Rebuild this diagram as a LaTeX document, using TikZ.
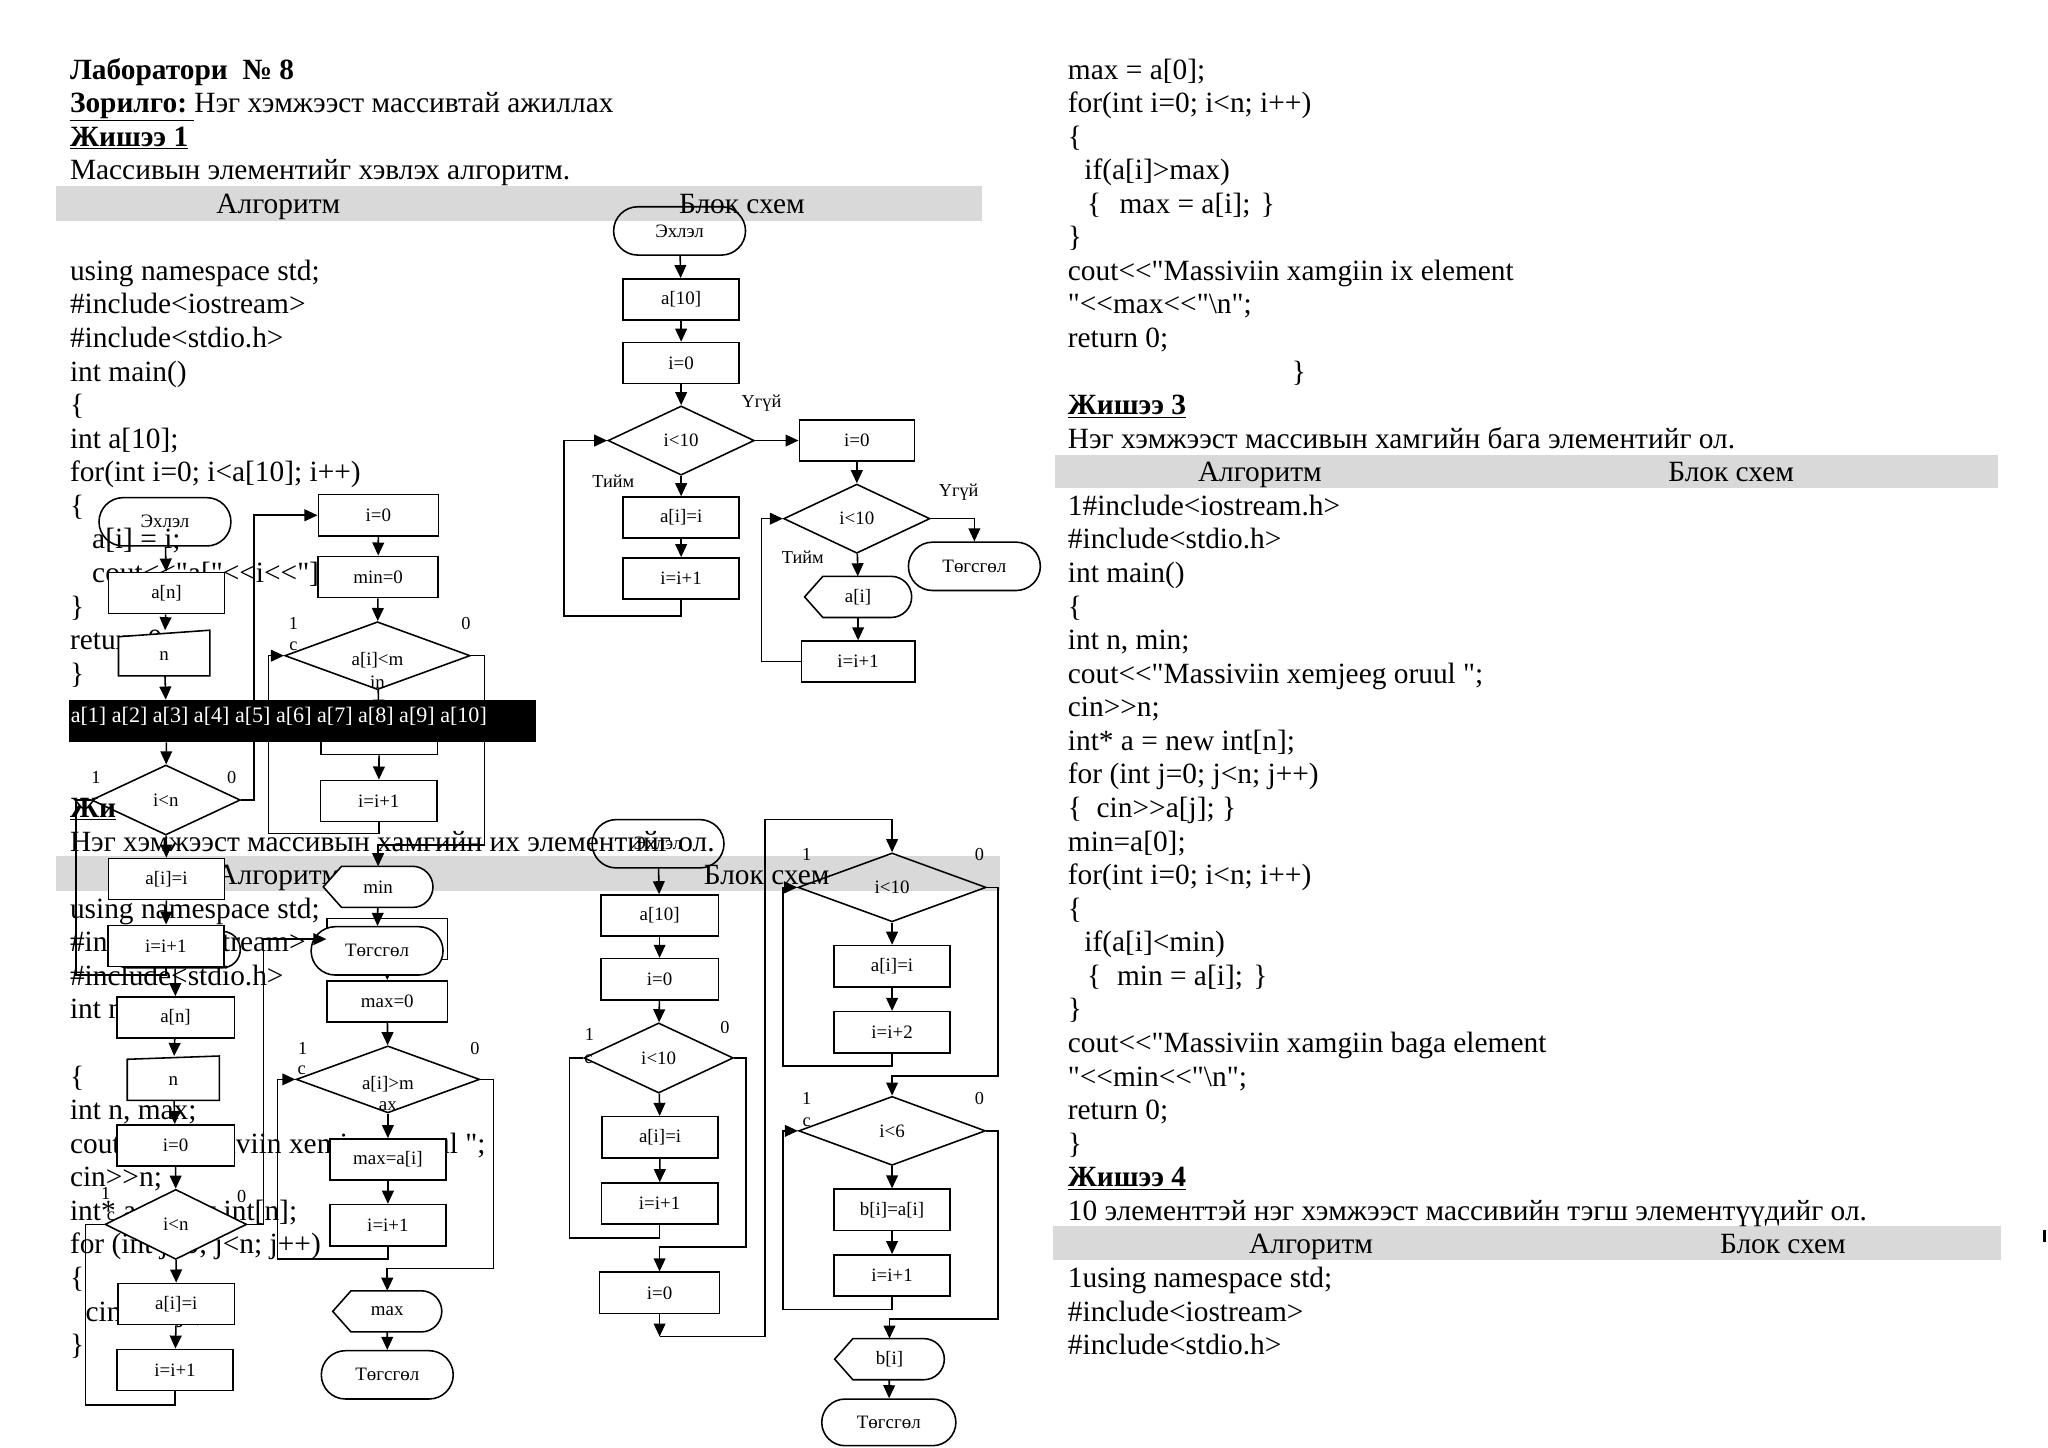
\documentclass[tikz,border=0pt]{standalone}
\usepackage{fontspec}
\setmainfont{Liberation Serif}[Ligatures=TeXOff]
\usetikzlibrary{arrows.meta, positioning, shapes.geometric, shapes.misc}

\begin{document}
\begin{tikzpicture}[x=1pt, y=-1pt, line width=1.2pt,
    codeline/.style={anchor=base west, inner sep=0pt, font=\fontsize{22.5}{25.7}\selectfont},
    bandtitle/.style={codeline, anchor=base},
    fc/.style={inner sep=0pt, font=\fontsize{14.5}{16}\selectfont},
    blk/.style={fc, draw, fill=white, minimum width=89pt, minimum height=31.5pt},
    term/.style={fc, draw, rounded rectangle, minimum width=101pt, minimum height=37pt},
    dec/.style={fc, draw, fill=white, diamond},
    shp/.style={fc, outer sep=0pt, minimum width=84pt, minimum height=31.5pt},
    lbl/.style={inner sep=0pt, font=\fontsize{14}{16}\selectfont},
    arr/.style={-{Triangle[length=10pt, width=9pt]}}
]
\useasboundingbox (0,0) rectangle (1568,1108);
\fill[white] (0,0) rectangle (1568,1108);

%% gray header bands
\fill[black!15] (43.2,142.4) rectangle (752.2,169);
\fill[black!15] (43.2,655.7) rectangle (765.7,682);
\fill[black!15] (807.4,348.4) rectangle (1530,373.9);
\fill[black!15] (806.4,938.7) rectangle (1531.7,964.7);
\node[bandtitle] (h1) at (213.1,163.3) {Алгоритм};
\node[bandtitle] (h2) at (568,163.3) {Блок схем};
\node[bandtitle] (h3) at (213.1,677.3) {Алгоритм};
\node[bandtitle] (h4) at (587,677.3) {Блок схем};
\node[bandtitle] (h5) at (964.6,368.8) {Алгоритм};
\node[bandtitle] (h6) at (1325.4,368.8) {Блок схем};
\node[bandtitle] (h7) at (1003.8,960) {Алгоритм};
\node[bandtitle] (h8) at (1365,960) {Блок схем};

%% page text, one line per row of 25.7pt
\foreach \k/\x/\lbl in {
  0/53/{\textbf{Лаборатори\ \ № 8}},
  1/53/{\underline{\textbf{Зорилго:}\ }Нэг хэмжээст массивтай ажиллах},
  2/53/{\underline{\textbf{Жишээ 1}}},
  3/53/{Массивын элементийг хэвлэх алгоритм.},
  6/53/{using namespace std;},
  7/53/{\#include<iostream>},
  8/53/{\#include<stdio.h>},
  9/53/{int main()},
  10/53/{\{},
  11/53/{int a[10];},
  12/53/{for(int i=0; i<a[10]; i++)},
  13/53/{\{},
  14/70/{a[i] = i;},
  15/70/{cout<<"a["<<i<<"]},
  16/53/{\}},
  17/53/{return 0;},
  18/53/{\}},
  23/53/{Нэг хэмжээст массивын хамгийн их элементийг ол.},
  25/53/{using namespace std;},
  26/53/{\#include<iostream>},
  27/53/{\#include<stdio.h>},
  28/53/{int main()},
  30/53/{\{},
  31/53/{int n, max;},
  32/53/{cout<<"Massiviin xemjeeg oruul ";},
  33/53/{cin>>n;},
  34/53/{int* a = new int[n];},
  35/53/{for (int j=0; j<n; j++)},
  36/53/{\{},
  37/65/{cin>>a[j];},
  38/53/{\}}}{
  \node[codeline] (L\k) at (\x,{60.5+25.7*\k}) {\lbl};
}
\foreach \k/\x/\lbl in {
  0/817/{max = a[0];},
  1/817/{for(int i=0; i<n; i++)},
  2/817/{\{},
  3/829.6/{if(a[i]>max)},
  4/831.8/{\{\hspace{14pt}max = a[i];\hspace{8pt}\}},
  5/817/{\}},
  6/817/{cout<<"Massiviin xamgiin ix element},
  7/817/{"<<max<<"\textbackslash n";},
  8/817/{return 0;},
  9/988.5/{\}},
  10/817/{\underline{\textbf{Жишээ 3}}},
  11/817/{Нэг хэмжээст массивын хамгийн бага элементийг ол.},
  13/817/{1\#include<iostream.h>},
  14/817/{\#include<stdio.h>},
  15/817/{int main()},
  16/817/{\{},
  17/817/{int n, min;},
  18/817/{cout<<"Massiviin xemjeeg oruul ";},
  19/817/{cin>>n;},
  20/817/{int* a = new int[n];},
  21/817/{for (int j=0; j<n; j++)},
  22/817/{\{\ \ cin>>a[j]; \}},
  23/817/{min=a[0];},
  24/817/{for(int i=0; i<n; i++)},
  25/817/{\{},
  26/829.6/{if(a[i]<min)},
  27/831.8/{\{\hspace{12pt}min = a[i];\hspace{8pt}\}},
  28/817/{\}},
  29/817/{cout<<"Massiviin xamgiin baga element},
  30/817/{"<<min<<"\textbackslash n";},
  31/817/{return 0;},
  32/817/{\}},
  33/817/{\underline{\textbf{Жишээ 4}}},
  34/817/{10 элементтэй нэг хэмжээст массивийн тэгш элементүүдийг ол.},
  36/817/{1using namespace std;},
  37/817/{\#include<iostream>},
  38/817/{\#include<stdio.h>}}{
  \node[codeline] (R\k) at (\x,{60.5+25.7*\k}) {\lbl};
}

%% Example 1: print the array
\node[term] (A1) at (520.3,176.8) {Эхлэл};
\node[blk] (A2) at (521.5,229.3) {a[10]};
\node[blk] (A3) at (521.5,278) {i=0};
\node[dec, minimum width=112pt, minimum height=53pt] (A4) at (521.5,337.3) {i<10};
\node[blk, minimum width=88pt] (A5) at (656,337.3) {i=0};
\node[blk] (A6) at (521.5,396.3) {a[i]=i};
\node[blk] (A7) at (521.5,442.9) {i=i+1};
\node[dec, minimum width=112pt, minimum height=53pt] (A8) at (656,397.1) {i<10};
\node[term] (A9) at (746,433.6) {Төгсгөл};
\node[shp, minimum width=82pt] (A10) at (657,457) {};
\node[blk, minimum width=87pt] (A11) at (657,506.6) {i=i+1};
\draw[arr] (A1) -- (A2);
\draw[arr] (A2) -- (A3);
\draw[arr] (A3) -- (A4);
\draw[arr] (A4) -- (A5);
\draw[arr] (A4) -- (A6);
\draw[arr] (A6) -- (A7);
\draw[arr] (A7.south) |- (432,471.7) |- (A4.west);
\draw[arr] (A5) -- (A8);
\draw[arr] (A8.east) -| (A9.north);
\draw[arr] (A8) -- (A10);
\draw[arr] (A10) -- (A11);
\draw[arr] (A11.west) -- ++(-29.8,0) |- (A8.west);
\node[lbl] (yA1) at (583,309) {Үгүй};
\node[lbl] (tA1) at (469.5,368.5) {Тийм};
\node[lbl] (yA2) at (734,376.7) {Үгүй};
\node[lbl] (tA2) at (614.6,427) {Тийм};

%% Example 2: largest element (lies under the min chart)
\node[term, minimum width=100pt, minimum height=28pt] (C1) at (134,727) {Эхлэл};
\node[blk, minimum width=90pt] (C2) at (134.4,779) {a[n]};
\node[shp, minimum width=70.5pt, minimum height=34pt] (C3) at (132.7,825.5) {};
\node[blk, minimum width=90pt] (C4) at (134.4,877) {i=0};
\node[dec, minimum width=108.5pt, minimum height=53.6pt] (C5) at (134.6,937.4) {i<n};
\node[blk] (C6) at (135,998.3) {a[i]=i};
\node[blk] (C7) at (134,1048.9) {i=i+1};
\node[blk, minimum width=92pt] (C8) at (296.5,719) {i=0};
\node[blk, minimum width=92pt] (C9) at (296.5,766.7) {max=0};
\node[dec, minimum width=140.5pt, minimum height=51.3pt] (C10) at (297,826.4) {};
\node[blk] (C11) at (297,887.7) {max=a[i]};
\node[blk] (C12) at (297,938) {i=i+1};
\node[shp, minimum width=83.5pt] (C13) at (296.5,1004) {};
\node[term] (C14) at (296.5,1052.6) {Төгсгөл};
\node[fc] (C10a) at (297,830) {a[i]>m};
\node[fc] (C10b) at (297,847) {ax};
\draw[arr] (C1) -- (C2);
\draw[arr] (C2) -- (C3);
\draw[arr] (C3) -- (C4);
\draw[arr] (C4) -- (C5);
\draw[arr] (C5) -- (C6);
\draw[arr] (C6) -- (C7);
\draw (C7.south) |- (65.6,1075.6) |- (C5.west);
\draw[arr] (C8) -- (C9);
\draw[arr] (C9) -- (C10);
\draw[arr] (C10) -- (C11);
\draw[arr] (C11) -- (C12);
\draw[arr] (C12.south) |- (212.6,964) |- (C10.west);
\draw[arr] (C10.east) -| (377.7,971.3) -| (C13.north);
\draw[arr] (C13) -- (C14);
\node[lbl] (oC5) at (81,914) {1};
\node[lbl] (zC5) at (185,916) {0};
\node[lbl] (cC5) at (85,931) {c};
\node[lbl] (oC10) at (231.7,802.8) {1};
\node[lbl] (zC10) at (363.7,802.8) {0};
\node[lbl] (cC10) at (231,819.8) {c};

%% Example 3: smallest element
\node[term] (B1) at (126.3,399.5) {Эхлэл};
\node[blk] (B2) at (127.5,454) {a[n]};
\node[shp, minimum width=70pt, minimum height=35pt] (B3) at (125.7,500) {};
\node[blk] (B4) at (127.5,552) {i=0};
\node[dec, minimum width=114pt, minimum height=53.6pt] (B5) at (127,612.5) {i<n};
\node[blk] (B6) at (127.5,673) {a[i]=i};
\node[blk] (B7) at (127,724.2) {i=i+1};
\node[blk, minimum width=92pt] (B8) at (289.7,394.5) {i=0};
\node[blk, minimum width=92pt] (B9) at (289.5,441.7) {min=0};
\node[dec, minimum width=142pt, minimum height=52pt] (B10) at (289,502) {};
\node[blk] (B11) at (290.3,562) {min=a[i]};
\node[blk] (B12) at (290,613.2) {i=i+1};
\node[shp] (B13) at (289.5,679) {};
\node[term, fill=white] (B14) at (288.7,728) {Төгсгөл};
\node[fc] (B10a) at (289,505.4) {a[i]<m};
\node[fc] (B10b) at (289,522.7) {in};
\draw[arr] (B1) -- (B2);
\draw[arr] (B2) -- (B3);
\draw[arr] (B3) -- (B4);
\draw[arr] (B4) -- (B5);
\draw[arr] (B5) -- (B6);
\draw[arr] (B6) -- (B7);
\draw (B7.south) |- (58.2,746.6) |- (B5.west);
\draw[arr] (B5.east) -- ++(10,0) |- (B8.west);
\draw[arr] (B8) -- (B9);
\draw[arr] (B9) -- (B10);
\draw[arr] (B10) -- (B11);
\draw[arr] (B11) -- (B12);
\draw[arr] (B12.south) |- (205.5,638) |- (B10.west);
\draw[arr] (B10.east) -| (370.8,647) -| (B13.north);
\draw[arr] (B13) -- (B14);
\node[lbl] (oB5) at (73.5,595) {1};
\node[lbl] (zB5) at (177.4,595) {0};
\node[lbl] (oB10) at (224.6,477.3) {1};
\node[lbl] (zB10) at (356.8,477.3) {0};
\node[lbl] (cB10) at (224.6,495) {c};

% 0-branch of the max chart, drawn over the min end box
\draw[arr] (C5.east) -- ++(12.2,0) |- (C8.west);

%% manual input and output boxes
\foreach \d/\dy in {B3/5, C3/2.5}{
  \draw[fill=white] (\d.south west) -- (\d.south east) -- (\d.north east)
    -- ([yshift=-\dy pt]\d.north west) -- cycle;
  \node[fc] at ([yshift=-2pt]\d.center) {n};
}
\foreach \d/\lbl in {A10/{a[i]}, B13/min, C13/max}{
  \draw[fill=white] (\d.west) -- ([xshift=14pt]\d.north west)
    -- ([xshift=-15.75pt]\d.north east) arc[start angle=90, end angle=-90, radius=15.75pt]
    -- ([xshift=14pt]\d.south west) -- cycle;
  \node[fc] at (\d) {\lbl};
}

%% black strip with the array cells
\fill[black] (52.8,536) rectangle (410.4,568);
\node[anchor=base west, inner sep=0pt, text=white, font=\fontsize{16.9}{18}\selectfont]
  (cells) at (53.6,553.3) {a[1] a[2] a[3] a[4] a[5] a[6] a[7] a[8] a[9] a[10]};
\node[codeline] (L22) at (53,625.9) {\underline{\textbf{Жи}}};

%% Example 4: even elements
\node[term] (D1) at (503.8,646) {Эхлэл};
\node[blk, minimum width=90pt] (D2) at (505,701) {a[10]};
\node[blk, minimum width=90pt] (D3) at (505,749.7) {i=0};
\node[dec, minimum width=114.3pt, minimum height=53.7pt] (D4) at (504.3,810) {i<10};
\node[blk] (D5) at (505.4,870.7) {a[i]=i};
\node[blk] (D6) at (505,921.5) {i=i+1};
\node[blk, minimum width=92pt] (D7) at (505,989.8) {i=0};
\coordinate (D8) at (505,1023.3);
\node[dec, fill=none, minimum width=144pt, minimum height=52.7pt] (D9) at (683,679.4) {i<10};
\node[blk] (D10) at (683,739.7) {a[i]=i};
\node[blk] (D11) at (683,790.3) {i=i+2};
\node[dec, minimum width=143pt, minimum height=52.8pt] (D12) at (683,865.8) {i<6};
\node[blk] (D13) at (683,926.2) {b[i]=a[i]};
\node[blk] (D14) at (683,976.5) {i=i+1};
\node[shp] (D15) at (681,1040.6) {};
\node[term, minimum width=102.7pt, minimum height=35.7pt] (D16) at (680.5,1089) {Төгсгөл};
\draw[arr] (D1) -- (D2);
\draw[arr] (D2) -- (D3);
\draw[arr] (D3) -- (D4);
\draw[arr] (D4) -- (D5);
\draw[arr] (D5) -- (D6);
\draw (D6.south) |- (435.9,948) |- (D4.west);
\draw[arr] (D4.east) -| (571,954.7) -| (D7.north);
\draw[arr] (D7) -- (D8);
\draw[arr] (D8) -| (585.7,627.4) -| (D9.north);
\draw[arr] (D9) -- (D10);
\draw[arr] (D10) -- (D11);
\draw[arr] (D11.south) |- (599.3,816.3) |- (D9.west);
\draw[arr] (D9.east) -| (763.9,823.6) -| (D12.north);
\draw[arr] (D12) -- (D13);
\draw[arr] (D13) -- (D14);
\draw[arr] (D14.south) |- (599.3,1002.7) |- (D12.west);
\draw[arr] (D12.east) -| (763.9,1009.9) -| (D15.north);
\draw[arr] (D15) -- (D16);
\draw[fill=white] (D15.west) -- ([xshift=14pt]D15.north west)
  -- ([xshift=-15.75pt]D15.north east) arc[start angle=90, end angle=-90, radius=15.75pt]
  -- ([xshift=14pt]D15.south west) -- cycle;
\node[fc] at (D15) {b[i]};
\node[lbl] (oD4) at (451.2,792) {1};
\node[lbl] (zD4) at (555,787) {0};
\node[lbl] (cD4) at (450.5,811) {c};
\node[lbl] (oD9) at (617.7,654.3) {1};
\node[lbl] (zD9) at (749.9,654.3) {0};
\node[lbl] (oD12) at (617.7,841.3) {1};
\node[lbl] (zD12) at (749.9,841.3) {0};
\node[lbl] (cD12) at (617.7,859) {c};

% mark at the right edge
\draw[line width=2pt] (1565.5,942) -- (1565.5,951);
\end{tikzpicture}
\end{document}
